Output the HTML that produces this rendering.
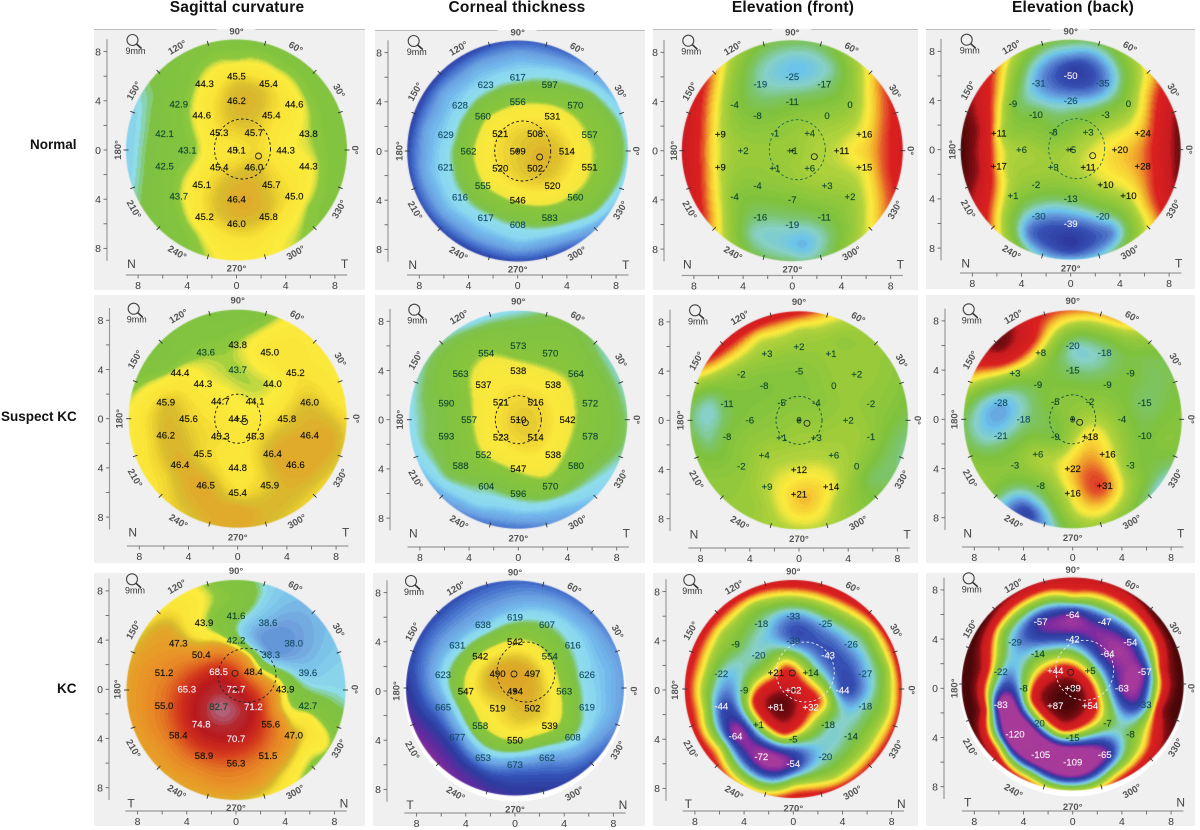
<!DOCTYPE html>
<html lang="en">
<head>
<meta charset="utf-8">
<title>Corneal topography comparison</title>
<style>
html,body{margin:0;padding:0;background:#fff;width:1200px;height:830px;overflow:hidden}
#root{position:relative;width:1200px;height:830px;font-family:"Liberation Sans",sans-serif;filter:blur(.3px)}
#root svg{position:absolute;left:0;top:0}
#root canvas{position:absolute}
.title{position:absolute;top:-1px;font-weight:700;font-size:15.5px;letter-spacing:.2px;color:#111;white-space:nowrap;transform:translateX(-50%)}
.rowl{position:absolute;font-weight:700;font-size:13.5px;color:#111;white-space:nowrap}
</style>
</head>
<body>
<div id="root">
<div class="title" style="left:237px">Sagittal curvature</div>
<div class="title" style="left:517px">Corneal thickness</div>
<div class="title" style="left:793px">Elevation (front)</div>
<div class="title" style="left:1073px">Elevation (back)</div>
<div class="rowl" style="left:30px;top:137px">Normal</div>
<div class="rowl" style="left:1px;top:409px">Suspect KC</div>
<div class="rowl" style="left:57px;top:681px">KC</div>
<svg id="under" width="1200" height="830"></svg>
<svg id="over" width="1200" height="830"></svg>
</div>
<script>
/* Printed values, order: centre, r2 (45,135,225,315), r4 (90..CCW, 8), r6 (90..CCW, 14) */
const normalSagittal=[45.1, 45.7,45.3,45.4,46.0, 46.2,44.6,43.1,45.1,46.4,45.7,44.3,45.4, 45.5,44.3,42.9,42.1,42.5,43.7,45.2,46.0,45.8,45.0,44.3,43.8,44.6,45.4];
const normalThickness=[509, 508,521,520,502, 556,560,562,555,546,520,514,531, 617,623,628,629,621,616,617,608,583,560,551,557,570,597];
const normalFront=[1, 4,-1,1,6, -11,-8,2,-4,-7,3,11,0, -25,-19,-4,9,9,-4,-16,-19,-11,2,15,16,0,-17];
const normalBack=[5, 3,-8,3,11, -26,-10,6,-2,-13,10,20,-3, -50,-31,-9,11,17,1,-30,-39,-20,10,28,24,0,-35];
const suspectSagittal=[44.5, 44.1,44.7,45.3,45.3, 43.7,44.3,45.6,45.5,44.8,46.4,45.8,44.0, 43.8,43.6,44.4,45.9,46.2,46.4,46.5,45.4,45.9,46.6,46.4,46.0,45.2,45.0];
const suspectThickness=[510, 516,521,523,514, 538,537,557,552,547,538,542,538, 573,554,563,590,593,588,604,596,570,580,578,572,564,570];
const suspectFront=[0, -4,-5,1,3, -5,-8,-6,4,12,6,2,0, 2,3,-2,-11,-8,-2,9,21,14,0,-1,-2,2,1];
const suspectBack=[0, -2,-5,-9,18, -15,-9,-18,6,22,16,-4,-9, -20,8,3,-28,-21,-3,-8,16,31,-3,-10,-15,-9,-18];
const kcSagittal=[72.7, 48.4,68.5,82.7,71.2, 42.2,50.4,65.3,74.8,70.7,55.6,43.9,38.3, 41.6,43.9,47.3,51.2,55.0,58.4,58.9,56.3,51.5,47.0,42.7,39.6,38.0,38.6];
const kcThickness=[494, 497,490,519,502, 542,542,547,558,550,539,563,554, 619,638,631,623,665,677,653,673,662,608,619,626,616,607];
const kcFront=[82, 14,21,81,32, -39,-20,-9,1,-5,-18,-44,-43, -33,-18,-9,-22,-44,-64,-72,-54,-20,-14,-18,-27,-26,-25];
const kcBack=[89, 5,44,87,54, -42,-14,-8,-20,-15,-7,-63,-64, -64,-57,-29,-22,-83,-120,-105,-109,-65,-8,-33,-57,-54,-47];

/* Estimated surface values at the periphery, r=7.5 and r=9.3 mm, 14 angles from 90 deg CCW */
const normalSagittalMid=[43.6,43.3,41.5,40.9,41.2,42.3,43.8,45.0,44.5,43.6,43.2,43.0,43.3,43.7];
const normalSagittalRim=[42.8,42.3,41.0,39.8,40.0,41.5,43.0,44.5,44.0,43.0,42.5,42.5,42.5,42.5];
const normalThicknessMid=[645,650,650,650,645,645,650,640,635,590,575,575,600,635];
const normalThicknessRim=[710,725,730,730,720,720,730,725,715,665,630,630,665,705];
const normalFrontMid=[-24,-15,12,32,32,12,-20,-26,-14,10,30,30,12,-18];
const normalFrontRim=[-10,0,38,60,60,35,-5,-12,-3,25,45,46,30,-2];
const normalBackMid=[-35,-20,20,62,62,16,-38,-52,-35,18,45,45,16,-25];
const normalBackRim=[-8,5,50,90,90,45,-5,-15,-5,30,85,85,32,0];
const suspectSagittalMid=[43.0,42.8,42.5,44.8,45.3,45.6,46.4,46.7,46.2,46.3,46.6,45.3,44.8,44.6];
const suspectSagittalRim=[41.0,42.3,42.0,43.5,44.5,45.0,45.8,46.2,45.6,45.2,45.5,44.6,44.4,44.0];
const suspectThicknessMid=[590,585,585,597,600,605,625,635,625,605,590,590,590,580];
const suspectThicknessRim=[620,625,610,620,630,665,700,705,670,635,610,615,615,600];
const suspectFrontMid=[10,14,13,-18,-17,-2,3,18,5,-14,-12,-4,1,0];
const suspectFrontRim=[50,60,50,-2,-5,0,2,5,1,-10,-18,-10,0,10];
const suspectBackMid=[2,40,40,-18,-20,-5,-28,8,15,-8,-5,-12,-12,-3];
const suspectBackRim=[36,50,65,5,-8,-3,-40,-10,-8,-28,-8,-8,-7,28];
const kcSagittalMid=[43,44.5,47,49,50,50,50,50,46.5,44.5,42,39.8,38.5,39.2];
const kcSagittalRim=[41.5,44.2,45,46,47,47,46.5,45.5,44.5,43,41,40,39,39.5];
const kcThicknessMid=[660,670,670,675,710,745,730,715,700,665,640,640,640,645];
const kcThicknessRim=[700,710,715,725,770,810,780,745,735,715,680,675,690,700];
const kcFrontMid=[5,0,8,13,10,5,-30,2,0,6,0,-5,-5,8];
const kcFrontRim=[65,60,60,55,55,55,40,60,55,55,55,60,60,65];
const kcBackMid=[14,-5,5,60,55,0,-20,-40,0,22,70,50,12,8];
const kcBackRim=[70,75,100,110,110,95,80,70,75,85,105,105,105,75];

/* Extra surface samples [x mm, y mm, value] */
const normalFrontExtra=[[0.3,6.5,-27],[0.8,-7.7,-28],[5,0,17]];
const normalBackExtra=[[0,-7.6,-56],[0.2,6.6,-52]];
const suspectBackExtra=[[-6,6,78],[-3.8,-7.6,-50],[2,-5.6,33],[-5.8,0.5,-30]];
const suspectFrontExtra=[[0.6,-6.6,22],[-7.3,0.6,-22]];
const kcSagittalExtra=[[-2.6,4.5,44.6],[3.3,0.8,44.7],[5.6,-2.2,44.7],[6.7,-4.4,44.7],[0.9,2.6,47],[3,-1.5,50],[4.5,-3,46],[1,3.4,41.5]];
const kcFrontExtra=[[-1,-1.2,88],[1.8,-0.9,40],[-0.7,1.6,40],[-3.2,-0.9,40],[-0.7,-3.4,40],[2.6,-0.9,15],[-0.7,2.5,12],[-3.6,-0.9,14],[-4.6,-3.5,-72],[-2.5,-5.4,-76],[-1,-6,-70]];
const kcBackExtra=[[-0.8,-0.8,92],[-4.6,-2.6,-90],[4.2,1.6,-66],[-0.8,1.6,45],[-3.2,-0.8,45],[-0.8,-3.2,45]];

/* Colour scales: value then colour */
const sagittalLevels=[36,38,39,40.3,41,43,43.6,43.85,44.1,45.1,45.6,45.95,46.4,47.5,50,55,60,65,72,78,82];
const sagittalColors=['#4f86cf','#6f9fdc','#7cc3ea','#8fdcea','#7fc243','#83c43e','#8fc93e','#d8df42','#fbeb3c','#f9e437','#ecd02f','#d9bd2e','#e0aa2a','#e89c28','#e88b27','#e06a22','#d8441e','#cb2a1c','#b81a1e','#b52a30','#b26078'];
const thicknessLevels=[480,495,505,515,525,538,548,552,556,590,600,606,612,625,640,660,680,700,720,750,790];
const thicknessColors=['#dfa129','#dcae2a','#e0c42f','#f2d935','#fbe83c','#f8e83c','#f0e640','#b0d240','#88c53d','#7fc243','#7fc253','#86cfa0','#8fdcec','#8ad8f0','#72b8ec','#6a9fe0','#4a78d0','#3350b4','#2f3b9f','#5a2ca0','#8f2a98'];
const elevationLevels=[-130,-72,-62,-54,-44,-34,-27,-22,-16,-10,0,8,12,15,20,25,30,36,60,72,90];
const elevationColors=['#a83a98','#a63a9a','#7e2aa0','#2e3a9e','#3650b4','#5f8fd8','#6cc4ea','#86d0c8','#7cc46a','#7fc23e','#98ca3a','#b6d43c','#e8e43e','#fbea3c','#f6cc34','#ee9a2a','#e4552a','#d9201f','#c61a20','#7c0d12','#4a0608'];

/* Axis and rim tick labels */
const axisLabels=[8,4,0,4,8];
const axisMinorMm=[-8,-6,-4,-2,0,2,4,6,8];
const angleLabels=[0,30,60,90,120,150,180,210,240,270,300,330];
const rimTickAngles=[0,20,45,75,105,135,160,180,200,225,255,285,315,340];

const SCALE=12.3;
const S=1,T=2,E=3;
const scales={1:[sagittalLevels,sagittalColors,3],2:[thicknessLevels,thicknessColors,3],3:[elevationLevels,elevationColors,4]};
const maps=[
 {n:'normal-sagittal',k:S,v:normalSagittal,m:normalSagittalMid,r:normalSagittalRim,e:[],p:[94,29,271,261],c:[236.5,150],d:[236.5,150,110.5,110.5],ax:[107,275],ring:[6,-1,28,30,'#111'],o:[22,6],l:'NT'},
 {n:'normal-thickness',k:T,v:normalThickness,m:normalThicknessMid,r:normalThicknessRim,e:[],p:[375,30,270,260],c:[517.7,151],d:[517.7,151,110.5,110.5],ax:[388,275],ring:[5,0,28,30,'#111'],o:[22,6],l:'NT'},
 {n:'normal-front',k:E,v:normalFront,m:normalFrontMid,r:normalFrontRim,e:normalFrontExtra,p:[653,29,265,261],c:[792.3,150.7],d:[792.3,150.7,110.5,110.5],ax:[664,275.5],ring:[5,-1,28,30,'#1c6a4a'],o:[22,6],l:'NT'},
 {n:'normal-back',k:E,v:normalBack,m:normalBackMid,r:normalBackRim,e:normalBackExtra,p:[926,29,269,260],c:[1070.7,149.7],d:[1070.7,149.7,110,110],ax:[941,273],ring:[6,-1,28,30,'#1c6a4a'],o:[22,6],l:'NT'},
 {n:'suspect-sagittal',k:S,v:suspectSagittal,m:suspectSagittalMid,r:suspectSagittalRim,e:[],p:[94,295,271,268],c:[237.7,418.7],d:[237.7,418.7,109,109],ax:[109.5,546],ring:[0,0,23,24.5,'#111'],o:[7,3],l:'NT'},
 {n:'suspect-thickness',k:T,v:suspectThickness,m:suspectThicknessMid,r:suspectThicknessRim,e:[],p:[375,295,270,268],c:[518.3,419.7],d:[518.3,419.7,109,109],ax:[390,547],ring:[0,0,23,24,'#111'],o:[7,3],l:'NT'},
 {n:'suspect-front',k:E,v:suspectFront,m:suspectFrontMid,r:suspectFrontRim,e:suspectFrontExtra,p:[653,295,265,268],c:[799,420.3],d:[799,420.3,109,109],ax:[670,548],ring:[0,0,23,24,'#12503a'],o:[8,3],l:'NT'},
 {n:'suspect-back',k:E,v:suspectBack,m:suspectBackMid,r:suspectBackRim,e:suspectBackExtra,p:[926,295,269,268],c:[1072.7,419.3],d:[1072.7,419.3,109,109],ax:[945,547],ring:[0,0,23,24.5,'#12503a'],o:[7,3],l:'NT'},
 {n:'kc-sagittal',k:S,v:kcSagittal,m:kcSagittalMid,r:kcSagittalRim,e:kcSagittalExtra,p:[94,573,271,253],c:[236,689.3],d:[236,690,109.5,110],ax:[109,811],ring:[11,-14,29,27,'#222'],o:[-1,-16],l:'TN'},
 {n:'kc-thickness',k:T,v:kcThickness,m:kcThicknessMid,r:kcThicknessRim,e:[],p:[373,573,272,253],c:[515,691],d:[515,688,109,107.5],ax:[387,813],ring:[11,-19,29,30,'#222'],o:[-1,-17],l:'TN',white:1},
 {n:'kc-front',k:E,v:kcFront,m:kcFrontMid,r:kcFrontRim,e:kcFrontExtra,p:[653,573,265,253],c:[793.3,690],d:[793.3,689,108.5,109],ax:[666,811],ring:[12,-18,29,30,'#e8e8f0'],o:[-1,-17],l:'TN'},
 {n:'kc-back',k:E,v:kcBack,m:kcBackMid,r:kcBackRim,e:kcBackExtra,p:[926,573,269,253],c:[1072.7,688.3],d:[1072.7,684,111,106.5],ax:[944,811],ring:[12,-18,29,30,'#e8e8f0'],o:[-2,-16],l:'TN',white:1}
];

const NS='http://www.w3.org/2000/svg';
const under=document.getElementById('under');
const over=document.getElementById('over');
const root=document.getElementById('root');

function mk(tag,parent,attrs,txt){
  const el=document.createElementNS(NS,tag);
  for(const a in attrs)el.setAttribute(a,attrs[a]);
  if(txt!==undefined)el.textContent=txt;
  parent.appendChild(el);
  return el;
}
function gridPoints(){
  const g=[[0,0]];
  [45,135,225,315].forEach(a=>g.push(pol(2,a)));
  [90,135,180,225,270,315,0,45].forEach(a=>g.push(pol(4,a)));
  for(let i=0;i<14;i++)g.push(pol(6,90+i*360/14));
  return g;
}
function pol(r,a){const t=a*Math.PI/180;return [r*Math.cos(t),r*Math.sin(t)];}
const GRID=gridPoints();

function hex(c){return [parseInt(c.slice(1,3),16),parseInt(c.slice(3,5),16),parseInt(c.slice(5,7),16)];}
const rgbCache={};
function rgb(c){return rgbCache[c]||(rgbCache[c]=hex(c));}
function colorAt(kind,v){
  const [L,C,sub]=scales[kind];
  if(v<=L[0])return rgb(C[0]);
  const n=L.length-1;
  if(v>=L[n])return rgb(C[n]);
  let i=0;while(v>=L[i+1])i++;
  let t=(v-L[i])/(L[i+1]-L[i]);
  t=Math.floor(t*sub)/sub;
  const a=rgb(C[i]),b=rgb(C[i+1]);
  return [a[0]+(b[0]-a[0])*t,a[1]+(b[1]-a[1])*t,a[2]+(b[2]-a[2])*t];
}
function tps(pts){
  const n=pts.length,N=n+3,A=[];
  for(let i=0;i<N;i++){A.push(new Float64Array(N+1));}
  for(let i=0;i<n;i++){
    for(let j=0;j<n;j++){
      const dx=pts[i][0]-pts[j][0],dy=pts[i][1]-pts[j][1],d=dx*dx+dy*dy;
      A[i][j]=d>0?0.5*d*Math.log(d):0;
    }
    A[i][i]=0.15;
    A[i][n]=1;A[i][n+1]=pts[i][0];A[i][n+2]=pts[i][1];
    A[n][i]=1;A[n+1][i]=pts[i][0];A[n+2][i]=pts[i][1];
    A[i][N]=pts[i][2];
  }
  for(let c=0;c<N;c++){
    let p=c;for(let r=c+1;r<N;r++)if(Math.abs(A[r][c])>Math.abs(A[p][c]))p=r;
    const tmp=A[c];A[c]=A[p];A[p]=tmp;
    const q=A[c][c];
    for(let r=c+1;r<N;r++){
      const f=A[r][c]/q;if(f===0)continue;
      for(let k=c;k<=N;k++)A[r][k]-=f*A[c][k];
    }
  }
  const w=new Float64Array(N);
  for(let r=N-1;r>=0;r--){
    let s=A[r][N];
    for(let k=r+1;k<N;k++)s-=A[r][k]*w[k];
    w[r]=s/A[r][r];
  }
  return function(x,y){
    let s=w[n]+w[n+1]*x+w[n+2]*y;
    for(let i=0;i<n;i++){
      const dx=x-pts[i][0],dy=y-pts[i][1],d=dx*dx+dy*dy;
      if(d>0)s+=w[i]*0.5*d*Math.log(d);
    }
    return s;
  };
}
function fmt(kind,v){
  if(kind===S)return v.toFixed(1);
  if(kind===T)return String(v);
  return v>0?'+'+v:String(v);
}
function surfacePoints(m){
  const pts=[];
  GRID.forEach((g,i)=>pts.push([g[0],g[1],m.v[i]]));
  for(let i=0;i<14;i++){
    const a=90+i*360/14,p=pol(7.5,a),q=pol(9.3,a);
    pts.push([p[0],p[1],m.m[i]]);
    pts.push([q[0],q[1],m.r[i]]);
  }
  m.e.forEach(x=>pts.push(x));
  if(m.n==='kc-front'){pts[0][2]=m.v[0]-27;pts[1][2]=m.v[1]-16;}
  return pts;
}
function drawMap(m){
  const [dx,dy,rx,ry]=m.d,[cx,cy]=m.c;
  const f=tps(surfacePoints(m));
  const x0=Math.floor(dx-rx-1),y0=Math.floor(dy-ry-1),w=Math.ceil(2*rx+3),h=Math.ceil(2*ry+3);
  const cv=document.createElement('canvas');
  
  
  cv.width=w;cv.height=h;cv.style.left=x0+'px';cv.style.top=y0+'px';
  root.insertBefore(cv,over);
  const ctx=cv.getContext('2d'),img=ctx.createImageData(w,h),D=img.data;
  const st=2,gw=Math.ceil(w/st)+2,gh=Math.ceil(h/st)+2,G=new Float32Array(gw*gh);
  for(let j=0;j<gh;j++)for(let i=0;i<gw;i++){
    const px=x0+i*st,py=y0+j*st;
    const ex=(px-dx)/rx,ey=(py-dy)/ry;
    G[j*gw+i]=(ex*ex+ey*ey<1.12)?f((px-cx)/SCALE,(cy-py)/SCALE):0;
  }
  for(let y=0;y<h;y++)for(let x=0;x<w;x++){
    const ex=(x0+x+.5-dx)/rx,ey=(y0+y+.5-dy)/ry,e=Math.sqrt(ex*ex+ey*ey);
    const al=Math.max(0,Math.min(1,(1-e)*rx+.5));
    if(al<=0)continue;
    const gx=x/st,gy=y/st,i=Math.floor(gx),j=Math.floor(gy),u=gx-i,t=gy-j;
    const v=(G[j*gw+i]*(1-u)+G[j*gw+i+1]*u)*(1-t)+(G[(j+1)*gw+i]*(1-u)+G[(j+1)*gw+i+1]*u)*t;
    const c=colorAt(m.k,v),o=(y*w+x)*4;
    D[o]=c[0];D[o+1]=c[1];D[o+2]=c[2];D[o+3]=al*255;
  }
  ctx.putImageData(img,0,0);
  return f;
}
function textColor(c){
  const l=(0.299*c[0]+0.587*c[1]+0.114*c[2])/255;
  if(l<0.42)return '#f2eef4';
  if(c[2]>150&&c[0]<170)return '#164f66';
  if(c[0]<185)return '#124a2e';
  return '#111108';
}
function drawPanel(m){
  const [px,py,pw,ph]=m.p,[cx,cy]=m.c,[dx,dy,rx,ry]=m.d;
  const bg=mk('rect',under,{x:px,y:py,width:pw,height:ph,fill:'#f0f0f0'});
  
  
  if(m.white){
    const wh=mk('ellipse',under,{cx:dx,cy:dy+3,rx:rx+2,ry:ry+3,fill:'#fff'});
    
    
  }
  const f=drawMap(m);
  const g=mk('g',over,{});
  
  
  /* top rule */
  if(py<40){
    mk('path',g,{d:`M${px} ${py+.5}H${cx-20}M${cx+19} ${py+.5}H${px+pw}`,stroke:'#bdbdbd','stroke-width':1,fill:'none'});
  }
  /* axes */
  const axX=m.ax[0],axY=m.ax[1],lim=9*SCALE;
  const leftAxis=mk('path',g,{d:`M${axX} ${cy-lim}V${cy+lim}`,stroke:'#9a9a9a','stroke-width':1.2,fill:'none'});
  
  
  const bottomAxis=mk('path',g,{d:`M${cx-lim} ${axY}H${cx+lim}`,stroke:'#9a9a9a','stroke-width':1.2,fill:'none'});
  
  
  axisMinorMm.forEach(t=>{
    mk('path',g,{d:`M${axX-3.5} ${cy-t*SCALE}H${axX}`,stroke:'#666','stroke-width':.9});
    mk('path',g,{d:`M${cx+t*SCALE} ${axY}V${axY+3.5}`,stroke:'#666','stroke-width':.9});
  });
  axisLabels.forEach((t,i)=>{
    const off=(i-2)*4*SCALE;
    const yl=mk('text',g,{x:axX-9,y:cy+off+3.8,'text-anchor':'middle','font-size':10.5,fill:'#3c3c3c'},t);
    
    
    const xl=mk('text',g,{x:cx+off,y:axY+14,'text-anchor':'middle','font-size':10.5,fill:'#3c3c3c'},t);
    
    
  });
  /* rim ticks */
  rimTickAngles.forEach(a=>{
    const t=a*Math.PI/180,c=Math.cos(t),s=Math.sin(t);
    mk('path',g,{d:`M${dx+c*(rx-2.5)} ${dy-s*(ry-2.5)}L${dx+c*(rx+2.5)} ${dy-s*(ry+2.5)}`,stroke:'#333','stroke-width':.9});
  });
  /* degree labels */
  angleLabels.forEach(a=>{
    const t=a*Math.PI/180,lx=cx+Math.cos(t)*118.5,ly=cy-Math.sin(t)*118.5;
    let rot=90-a;
    if(a>180&&a<360)rot=270-a;
    const tx=mk('text',g,{x:lx,y:ly+3.2,'text-anchor':'middle','font-size':9.5,'font-weight':700,fill:'#555',transform:`rotate(${rot} ${lx} ${ly})`},a+'°');
    
    
  });
  /* magnifier */
  const mag=mk('g',g,{});
  
  
  mk('circle',mag,{cx:cx-104,cy:cy-110,r:5.5,fill:'none',stroke:'#444','stroke-width':1.1});
  mk('path',mag,{d:`M${cx-100} ${cy-106}l5 4.5`,stroke:'#333','stroke-width':1.6});
  mk('text',mag,{x:cx-101,y:cy-96,'text-anchor':'middle','font-size':9,fill:'#333'},'9mm');
  /* N / T */
  const a=mk('text',g,{x:cx-105,y:cy+118,'text-anchor':'middle','font-size':12,fill:'#444'},m.l[0]);
  
  
  const b=mk('text',g,{x:cx+108,y:cy+118,'text-anchor':'middle','font-size':12,fill:'#444'},m.l[1]);
  
  
  /* pupil ring, pupil centre */
  const [rdx,rdy,rrx,rry,rc]=m.ring;
  const ring=mk('ellipse',g,{cx:cx+rdx,cy:cy+rdy,rx:rrx,ry:rry,fill:'none',stroke:rc,'stroke-width':.9,'stroke-dasharray':'2.6 2.4'});
  
  
  const pc=mk('circle',g,{cx:cx+m.o[0],cy:cy+m.o[1],r:3,fill:'none',stroke:'#222','stroke-width':.9});
  
  
  /* printed values */
  GRID.forEach((p,i)=>{
    const x=cx+p[0]*SCALE,y=cy-p[1]*SCALE;
    const col=colorAt(m.k,f(p[0],p[1]));
    const fc=textColor(col);
    const lb=mk('text',g,{x:x,y:y+3.3,'text-anchor':'middle','font-size':9.6,fill:fc,stroke:fc,'stroke-width':.15},fmt(m.k,m.v[i]));
    
    
  });
  mk('path',g,{d:`M${cx-2} ${cy}h4M${cx} ${cy-2}v4`,stroke:'#111','stroke-width':.9});
}
maps.forEach(drawPanel);
</script>
</body>
</html>
